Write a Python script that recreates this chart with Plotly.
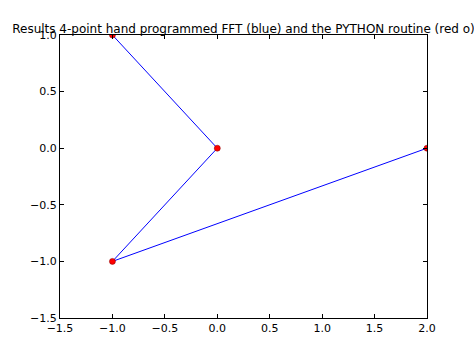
import plotly.graph_objects as go

re_vals = [2, -1, 0, -1]
im_vals = [0, -1, 0, 1]
title = "Results 4-point hand programmed FFT (blue) and the PYTHON routine (red o)"

fig = go.Figure()
fig.add_trace(go.Scatter(x=re_vals, y=im_vals, mode="lines",
                         line=dict(color="#0000ff", width=1), hoverinfo="skip"))
fig.add_trace(go.Scatter(x=re_vals, y=im_vals, mode="markers",
                         marker=dict(color="#ff0000", size=6,
                                     line=dict(color="#800000", width=0.5))))

ax = dict(showgrid=False, zeroline=False, ticks="inside", ticklen=4,
          tickwidth=1, tickcolor="black", showline=True, linecolor="black",
          linewidth=1, mirror="ticks", tickformat=".1f",
          tickfont=dict(family="DejaVu Sans", size=11, color="black"))

fig.update_layout(
    width=474, height=353,
    margin=dict(l=60, r=47, t=35, b=35),
    paper_bgcolor="white", plot_bgcolor="white",
    showlegend=False,
    title=dict(text=title, x=0.5, xref="paper", xanchor="center",
               y=1, yref="paper", yanchor="bottom", pad=dict(b=2),
               font=dict(family="DejaVu Sans", size=12, color="black")),
    xaxis=dict(range=[-1.5, 2.0], dtick=0.5, **ax),
    yaxis=dict(range=[-1.5, 1.0], dtick=0.5, **ax),
)
fig.write_html("out.html")
